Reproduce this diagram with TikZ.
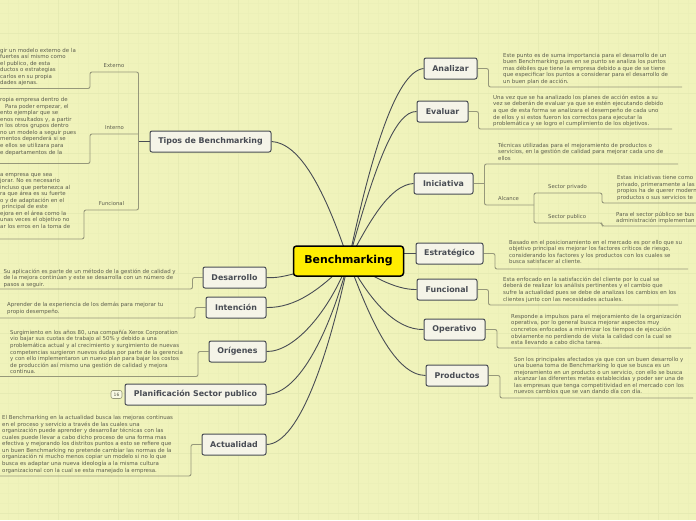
\documentclass[tikz,border=0pt]{standalone}
\usepackage{fontspec}
\setmainfont{DejaVu Sans}
\usetikzlibrary{backgrounds}
\definecolor{paper}{RGB}{240,243,187}
\definecolor{gridminor}{RGB}{236,240,184}
\definecolor{gridmajor}{RGB}{230,235,179}
\definecolor{inkline}{RGB}{72,76,84}
\definecolor{twigline}{RGB}{150,152,122}
\definecolor{notetext}{RGB}{92,93,78}
\tikzset{
  topic/.style={shape=rectangle, rounded corners=2pt, draw=inkline, line width=1pt, fill=black!5!white!95!yellow, text=inkline, inner sep=0pt, minimum height=21pt, font=\fontsize{7.9}{9}\selectfont\bfseries},
  note/.style={anchor=north west, inner sep=0pt, align=left, text=notetext, font=\fontsize{5.45}{6.55}\selectfont},
  tag/.style={inner sep=0pt, text=notetext, font=\fontsize{5.3}{6}\selectfont},
  branch/.style={draw=inkline, line width=0.9pt},
  twig/.style={draw=twigline, line width=0.9pt, rounded corners=2pt},
}
\begin{document}
\begin{tikzpicture}[x=1pt, y=-1pt]
\useasboundingbox (0,0) rectangle (696,520);
\begin{scope}
\clip (0,0) rectangle (696,520);
\node[shape=rectangle, draw=black, line width=1.5pt, rounded corners=3pt, fill=yellow!95!orange, text=black, inner sep=0pt, minimum width=110pt, minimum height=30pt, font=\fontsize{10.9}{13}\selectfont\bfseries] (root) at (348.5,261) {Benchmarking};
% main topics
\node[topic, minimum width=53pt] (analizar) at (450.5,68.5) {Analizar};
\node[topic, minimum width=51pt] (evaluar) at (442.5,111.5) {Evaluar};
\node[topic, minimum width=59pt] (iniciativa) at (443.5,183.5) {Iniciativa};
\node[topic, minimum width=67pt] (estrategico) at (449.5,253.5) {Estratégico};
\node[topic, minimum width=60pt] (funcional) at (447,289.5) {Funcional};
\node[topic, minimum width=61pt] (operativo) at (454.5,329.5) {Operativo};
\node[topic, minimum width=62pt] (productos) at (457,375.5) {Productos};
\node[topic, minimum width=121pt] (tipos) at (210.5,141.5) {Tipos de Benchmarking};
\node[topic, minimum width=63pt] (desarrollo) at (234.5,277.5) {Desarrollo};
\node[topic, minimum width=60pt] (intencion) at (236,307.5) {Intención};
\node[topic, minimum width=57pt] (origenes) at (237.5,351.5) {Orígenes};
\node[topic, minimum width=141pt] (planificacion) at (195.5,394.5) {Planificación Sector publico};
\node[topic, minimum width=64pt] (actualidad) at (234,444.5) {Actualidad};
\node[shape=rectangle, rounded corners=2pt, draw=twigline, line width=0.6pt, fill=paper!40!white, text=notetext, inner sep=0pt, minimum width=11pt, minimum height=8pt, font=\fontsize{4.5}{5}\selectfont] (contador) at (116.5,394.5) {16};
% right notes
\node[note] (analizartexto) at (503,52.8) {Este punto es de suma importancia para el desarrollo de un\\buen Benchmarking pues en se punto se analiza los puntos\\mas débiles que tiene la empresa debido a que de se tiene\\que especificar los puntos a considerar para el desarrollo de\\un buen plan de acción.};
\node[note] (evaluartexto) at (493,94.8) {Una vez que se ha analizado los planes de acción estos a su\\vez se deberán de  evaluar ya que se estén ejecutando debido\\a que de esta forma se analizara el desempeño de cada uno\\de ellos y si estos fueron los correctos para ejecutar la\\problemática y se logro el cumplimiento de los objetivos.};
\node[note] (iniciativatexto) at (498,142.8) {Técnicas utilizadas para el mejoramiento de productos o\\servicios, en  la gestión de calidad para mejorar cada uno de\\ellos};
\node[note] (privadotexto) at (617,175.3) {Estas iniciativas tiene como\\privado, primeramente a las\\propios ha de querer modern\\productos o sus servicios te};
\node[note] (publicotexto) at (616,211.8) {Para el sector público se bus\\administración implementan};
\node[note] (estrategicotexto) at (509,239.8) {Basado en el posicionamiento en el mercado es por ello que su\\objetivo principal es mejorar los factores críticos de riesgo,\\considerando los factores y los productos con  los cuales se\\busca satisfacer al cliente.};
\node[note] (funcionaltexto) at (503,276.8) {Esta enfocado en la satisfacción del cliente por lo cual se\\deberá de realizar los análisis pertinentes y el cambio que\\sufre la actualidad pues se debe de analizas los cambios en los\\clientes junto con las necesidades actuales.};
\node[note] (operativotexto) at (511,313.8) {Responde a impulsos para el mejoramiento de la organización\\operativa, por lo general busca mejorar aspectos muy\\concretos enfocados a minimizar los tiempos de ejecución\\obviamente no perdiendo de vista la calidad con la cual se\\esta llevando a cabo dicha tarea.};
\node[note] (productostexto) at (514,356.8) {Son los principales afectados ya que con un buen desarrollo y\\una buena toma de Benchmarking lo que se busca es un\\mejoramiento en un producto o un servicio, con ello se busca\\alcanzar las diferentes metas establecidas y poder ser una de\\las empresas que tenga competitividad en el mercado con los\\nuevos cambios que se van dando día con día.};
% left notes
\node[note] (externotexto) at (0,47.8) {gir un modelo externo de la\\fuertes así mismo como\\el publico, de esta\\ductos o estrategias\\carlos en su propia\\dades ajenas.};
\node[note] (internotexto) at (0,97.3) {ropia empresa dentro de\\\hspace*{5pt}Para poder empezar, el\\ento ejemplar que se\\enos resultados y, a partir\\n los otros grupos dentro\\no un modelo a seguir pues\\mentos dependerá si se\\e ellos se utilizara para\\e departamentos de la};
\node[note] (funcionalizq) at (0,172.8) {a empresa que sea\\jorar. No es necesario\\incluso que pertenezca al\\ra que área es su fuerte\\o y de adaptación en el\\\hspace*{2pt}principal de este\\ejora en el área como la\\unas veces el objetivo no\\ar los erros en la toma de};
\node[note] (desarrollotexto) at (3.5,268.8) {Su aplicación es parte de un método de la gestión de calidad y\\de la mejora continúan y este se desarrolla con un número de\\pasos a seguir.};
\node[note] (intenciontexto) at (7,302.3) {Aprender de la experiencia de los demás para mejorar tu\\propio desempeño.};
\node[note] (origenestexto) at (10,329.8) {Surgimiento en los años 80, una compañía Xerox Corporation\\vio bajar  sus cuotas de trabajo al 50\% y debido a una\\problemática actual y al crecimiento y surgimiento de nuevas\\competencias surgieron nuevos dudas por parte de la gerencia\\y con ello implementaron un nuevo plan para bajar los costos\\de producción así mismo una gestión de calidad y  mejora\\continua.};
\node[note] (actualidadtexto) at (2,415.3) {El Benchmarking en la actualidad busca las mejoras continuas\\en el proceso y servicio  a través de las cuales una\\organización puede aprender y desarrollar técnicas con las\\cuales puede llevar a cabo dicho proceso de una forma mas\\efectiva y mejorando los distritos puntos a esto se refiere que\\un buen Benchmarking  no pretende cambiar las normas de la\\organización ni mucho menos copiar un modelo si no lo que\\busca es adaptar una nueva ideología a la misma cultura\\organizacional con la cual se esta manejado la empresa.};
% small labels
\node[tag] (externo) at (114,66) {Externo};
\node[tag] (interno) at (114.5,128) {Interno};
\node[tag] (funcionaltag) at (111.5,204) {Funcional};
\node[tag, anchor=west] (alcance) at (498,199) {Alcance};
\node[tag, anchor=west] (privado) at (548,187) {Sector privado};
\node[tag, anchor=west] (publico) at (548,217) {Sector publico};
% bends and free ends
\coordinate (tiposstem) at (138.5,141.5);
\coordinate (externobend) at (138.5,72);
\coordinate (externoup) at (90,72);
\coordinate (externodown) at (90,88.5);
\coordinate (externoend) at (0,88.5);
\coordinate (internobend) at (138.5,134);
\coordinate (internoup) at (90,134);
\coordinate (internodown) at (90,163.5);
\coordinate (internoend) at (0,163.5);
\coordinate (funcionalbend) at (138.5,210);
\coordinate (funcionalup) at (84,210);
\coordinate (funcionaldown) at (84,239);
\coordinate (funcionalend) at (0,239);
\coordinate (desarrollobend) at (192.5,289);
\coordinate (desarrolloend) at (0,289);
\coordinate (intencionbend) at (195,318);
\coordinate (intencionend) at (0,318);
\coordinate (origenesbend) at (198,376.5);
\coordinate (origenesend) at (0,376.5);
\coordinate (actualidadbend) at (191,476);
\coordinate (actualidadend) at (0,476);
\coordinate (analizarbend) at (488.5,87);
\coordinate (analizarend) at (682,87);
\coordinate (evaluarbend) at (478.5,129);
\coordinate (evaluarend) at (672,129);
\coordinate (iniciativastem) at (484.5,183.5);
\coordinate (iniciativaup) at (484.5,164);
\coordinate (iniciativaend) at (678,164);
\coordinate (iniciativadown) at (484.5,205);
\coordinate (alcancestem) at (534,205);
\coordinate (privadobend) at (534,193);
\coordinate (privadoup) at (602,193);
\coordinate (privadodown) at (602,203);
\coordinate (privadoend) at (696,203);
\coordinate (publicobend) at (534,223);
\coordinate (publicoup) at (602,223);
\coordinate (publicodown) at (602,226);
\coordinate (publicoend) at (696,226);
\coordinate (estrategicobend) at (495,269);
\coordinate (estrategicoend) at (688,269);
\coordinate (funcionalbendd) at (488.5,305);
\coordinate (funcionalendd) at (678,305);
\coordinate (operativobend) at (497,348);
\coordinate (operativoend) at (691,348);
\coordinate (productosbend) at (500,398);
\coordinate (productosend) at (693,398);
% page, grid and connectors go behind the boxes
\begin{scope}[on background layer]
\fill[paper] (0,0) rectangle (696,520);
\foreach \gx in {-2,8,...,698} \draw[gridminor, line width=0.8pt] (\gx,0) -- (\gx,520);
\foreach \gy in {3,13,...,523} \draw[gridminor, line width=0.8pt] (0,\gy) -- (696,\gy);
\foreach \gx in {58,118,...,698} \draw[gridmajor, line width=1pt] (\gx,0) -- (\gx,520);
\foreach \gy in {33,93,...,513} \draw[gridmajor, line width=1pt] (0,\gy) -- (696,\gy);
\path [branch] (analizar.west) .. controls (395,72) and (370,160) .. (root.center);
\path [branch] (evaluar.west) .. controls (395,111) and (375,165) .. (root.center);
\path [branch] (iniciativa.west) .. controls (390,185) and (370,220) .. (root.center);
\path [branch] (root.center |- estrategico.west) -- (estrategico.west);
\path [branch] (funcional.west) .. controls (395,290) and (370,275) .. (root.center);
\path [branch] (operativo.west) .. controls (395,330) and (370,300) .. (root.center);
\path [branch] (productos.west) .. controls (395,375) and (370,320) .. (root.center);
\path [branch] (tipos.east) .. controls (300,143) and (325,190) .. (root.center);
\path [branch] (desarrollo.east) .. controls (285,279) and (300,270) .. (root.center);
\path [branch] (intencion.east) .. controls (295,308) and (320,290) .. (root.center);
\path [branch] (origenes.east) .. controls (295,352) and (330,310) .. (root.center);
\path [branch] (planificacion.east) .. controls (300,394) and (330,330) .. (root.center);
\path [branch] (actualidad.east) .. controls (300,444) and (330,350) .. (root.center);
\path [branch] (tipos.west) -- (tiposstem);
\path [twig] (externoend) -- (externodown) -- (externoup) -- (externobend) -- (funcionalbend) -- (funcionalup) -- (funcionaldown) -- (funcionalend);
\path [twig] (internoend) -- (internodown) -- (internoup) -- (internobend);
\path [twig] (desarrollo.west) -| (desarrollobend) -- (desarrolloend);
\path [twig] (intencion.west) -| (intencionbend) -- (intencionend);
\path [twig] (origenes.west) -| (origenesbend) -- (origenesend);
\path [twig] (actualidad.west) -| (actualidadbend) -- (actualidadend);
\path [twig] (analizar.east) -| (analizarbend) -- (analizarend);
\path [twig] (evaluar.east) -| (evaluarbend) -- (evaluarend);
\path [twig] (iniciativa.east) -- (iniciativastem);
\path [twig] (iniciativaend) -- (iniciativaup) -- (iniciativadown) -- (alcancestem);
\path [twig] (privadoend) -- (privadodown) -- (privadoup) -- (privadobend) -- (publicobend) -- (publicoup) -- (publicodown) -- (publicoend);
\path [twig] (estrategico.east) -| (estrategicobend) -- (estrategicoend);
\path [twig] (funcional.east) -| (funcionalbendd) -- (funcionalendd);
\path [twig] (operativo.east) -| (operativobend) -- (operativoend);
\path [twig] (productos.east) -| (productosbend) -- (productosend);
\end{scope}
\end{scope}
\end{tikzpicture}
\end{document}
